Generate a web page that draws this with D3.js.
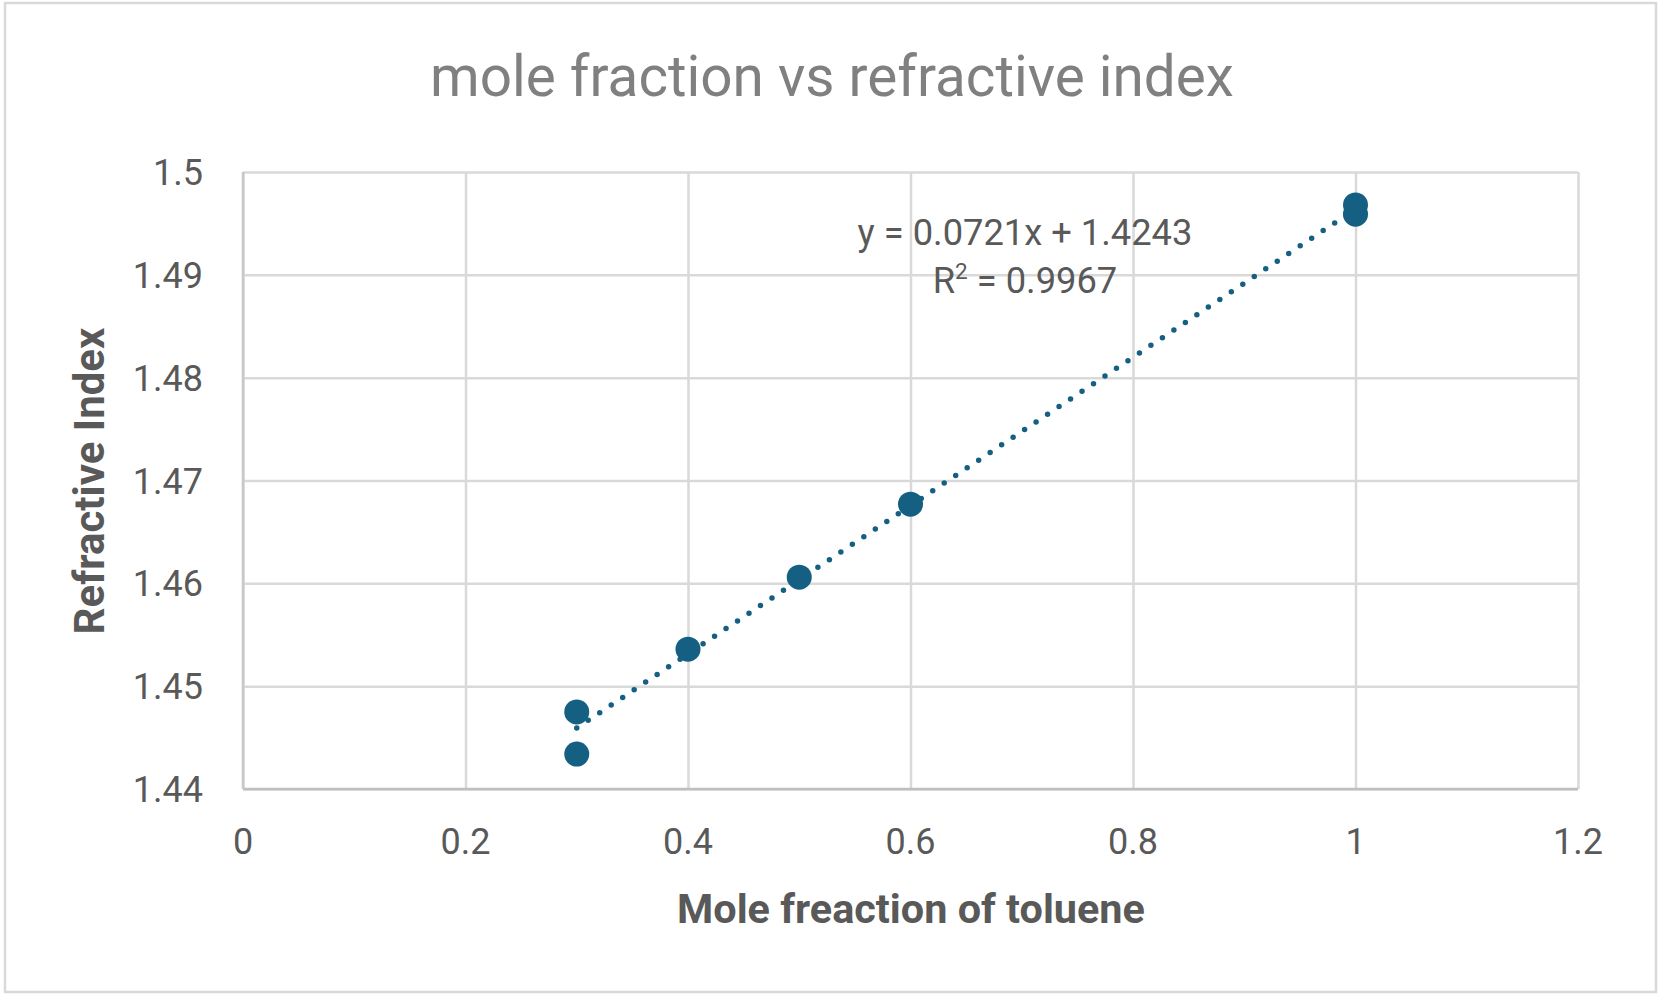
<!DOCTYPE html>
<html>
<head>
<meta charset="utf-8">
<script src="https://cdn.jsdelivr.net/npm/d3@7"></script>
<style>
  html, body { margin: 0; padding: 0; background: #ffffff; }
  svg { display: block; }
  text { font-family: Roboto, "Open Sans", "Liberation Sans", sans-serif; }
</style>
</head>
<body>
<svg id="chart" width="1663" height="999"></svg>
<script>
// ---- data ----
const moleFraction   = [0.3, 0.3, 0.4, 0.5, 0.6, 1.0, 1.0];
const refractiveIdx  = [1.4475, 1.4434, 1.4536, 1.4606, 1.4677, 1.4968, 1.4959];
const xTicks = [0, 0.2, 0.4, 0.6, 0.8, 1, 1.2];
const yTicks = [1.44, 1.45, 1.46, 1.47, 1.48, 1.49, 1.5];
const trendSlope = 0.0721;
const trendIntercept = 1.4243;
const trendR2 = 0.9967;
const titleText = "mole fraction vs refractive index";
const xTitleText = "Mole freaction of toluene";
const yTitleText = "Refractive Index";

// ---- layout ----
const W = 1663, H = 999;
const plot = { left: 243, right: 1578, top: 172, bottom: 789 };
const svg = d3.select("#chart");

const x = d3.scaleLinear().domain([0, 1.2]).range([plot.left, plot.right]);
const y = d3.scaleLinear().domain([1.44, 1.5]).range([plot.bottom, plot.top]);

const gridColor = "#d9d9d9";
const textColor = "#595959";
const markColor = "#156082";

// outer chart frame
svg.append("rect")
  .attr("x", 5).attr("y", 3)
  .attr("width", 1651).attr("height", 989)
  .attr("fill", "#ffffff")
  .attr("stroke", gridColor).attr("stroke-width", 2.5);

// gridlines
const gx = svg.append("g")
  .attr("transform", `translate(0,${plot.bottom})`)
  .call(d3.axisBottom(x).tickValues(xTicks).tickSize(-(plot.bottom - plot.top)).tickFormat(""));
gx.select(".domain").remove();
gx.selectAll(".tick line").attr("stroke", gridColor).attr("stroke-width", 2.5);

const gy = svg.append("g")
  .attr("transform", `translate(${plot.left},0)`)
  .call(d3.axisLeft(y).tickValues(yTicks).tickSize(-(plot.right - plot.left)).tickFormat(""));
gy.select(".domain").remove();
gy.selectAll(".tick line").attr("stroke", gridColor).attr("stroke-width", 2.5);

// axis lines (slightly darker)
svg.append("line")
  .attr("x1", x(0)).attr("x2", x(1.2)).attr("y1", y(1.44)).attr("y2", y(1.44))
  .attr("stroke", "#bfbfbf").attr("stroke-width", 2.5);
svg.append("line")
  .attr("x1", x(0)).attr("x2", x(0)).attr("y1", y(1.44)).attr("y2", y(1.5))
  .attr("stroke", "#c8c8c8").attr("stroke-width", 2.5);

// tick labels
const fmt = d => String(+d.toFixed(4));
svg.append("g").selectAll("text").data(xTicks).join("text")
  .attr("x", d => x(d)).attr("y", 854)
  .attr("text-anchor", "middle")
  .attr("font-size", 36).attr("fill", textColor)
  .text(fmt);

svg.append("g").selectAll("text").data(yTicks).join("text")
  .attr("x", 203).attr("y", d => y(d) + 13)
  .attr("text-anchor", "end")
  .attr("font-size", 36).attr("fill", textColor)
  .text(fmt);

// helper: fit a text element to a target width by adjusting font size
function fitWidth(sel, target) {
  const node = sel.node();
  const fs = parseFloat(sel.attr("font-size"));
  const w = node.getComputedTextLength();
  if (w > 0) sel.attr("font-size", fs * target / w);
  return sel;
}

// title
const title = svg.append("text")
  .attr("x", 832).attr("y", 96)
  .attr("text-anchor", "middle")
  .attr("font-size", 56).attr("fill", "#808080")
  .text(titleText);
fitWidth(title, 804);

// axis titles
const xt = svg.append("text")
  .attr("x", 911).attr("y", 923)
  .attr("text-anchor", "middle")
  .attr("font-size", 43).attr("font-weight", "bold").attr("fill", textColor)
  .text(xTitleText);
fitWidth(xt, 468);

const yt = svg.append("text")
  .attr("transform", "translate(104,481) rotate(-90)")
  .attr("text-anchor", "middle")
  .attr("font-size", 43).attr("font-weight", "bold").attr("fill", textColor)
  .text(yTitleText);
fitWidth(yt, 307);

// trendline (dotted)
const xExt = d3.extent(moleFraction);
const trendPts = xExt.map(v => [v, trendSlope * v + trendIntercept]);
svg.append("path")
  .datum(trendPts)
  .attr("d", d3.line().x(d => x(d[0])).y(d => y(d[1])))
  .attr("fill", "none")
  .attr("stroke", markColor)
  .attr("stroke-width", 5.5)
  .attr("stroke-linecap", "round")
  .attr("stroke-dasharray", "0 13.8");

// data points
svg.append("g").selectAll("circle")
  .data(moleFraction.map((v, i) => [v, refractiveIdx[i]]))
  .join("circle")
  .attr("cx", d => x(d[0])).attr("cy", d => y(d[1]))
  .attr("r", 12.5)
  .attr("fill", markColor);

// equation label
const eq1 = svg.append("text")
  .attr("x", 1025).attr("y", 245)
  .attr("text-anchor", "middle")
  .attr("font-size", 32).attr("fill", textColor)
  .text(`y = ${trendSlope}x + ${trendIntercept}`);
fitWidth(eq1, 335);
const eqFs = parseFloat(eq1.attr("font-size"));

const eq2 = svg.append("text")
  .attr("x", 1025).attr("y", 293)
  .attr("text-anchor", "middle")
  .attr("font-size", eqFs).attr("fill", textColor);
eq2.append("tspan").text("R");
eq2.append("tspan").attr("dy", -eqFs * 0.38).attr("font-size", eqFs * 0.62).text("2");
eq2.append("tspan").attr("dy", eqFs * 0.38).text(` = ${trendR2}`);
</script>
</body>
</html>
